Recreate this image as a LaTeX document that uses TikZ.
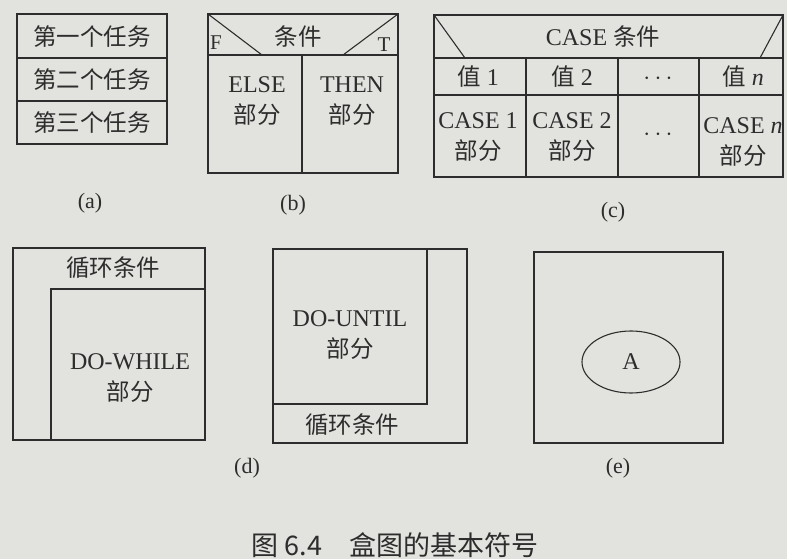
\documentclass[tikz,border=0pt]{standalone}
\usepackage{fontspec}
\setmainfont{Liberation Serif}
\newfontfamily\cjk{Noto Sans CJK SC}
\usetikzlibrary{shapes,positioning}
\definecolor{paper}{RGB}{226,226,222}
\definecolor{ink}{RGB}{45,45,45}
\newcommand\zh[1]{{\cjk\fontsize{23.5}{31}\selectfont #1}}

\begin{document}
\begin{tikzpicture}[x=1pt, y=-1pt,
    box/.style={draw=ink, line width=1.1pt},
    lbl/.style={text=ink, font=\fontsize{24}{31}\selectfont, inner sep=0pt, align=center},
    sublbl/.style={text=ink, font=\fontsize{22}{24}\selectfont, inner sep=0pt}
]
    \fill[paper] (0,0) rectangle (787,559);
    \useasboundingbox (0,0) rectangle (787,559);

    % (a) sequence
    \draw[box] (17,14) rectangle (167,144);
    \foreach \y in {58,101} {
        \draw[box] (17,\y) -- (167,\y);
    }
    \foreach \t [count=\i] in {第一个任务,第二个任务,第三个任务} {
        \node[lbl] (task\i) at (92,{37+43*(\i-1)}) {\zh{\t}};
    }
    \node[sublbl] (capa) at (90,203) {(a)};

    % (b) if-then-else
    \draw[box] (208,14) rectangle (398,173);
    \draw[box] (208,55) -- (398,55);
    \draw[box] (302,55) -- (302,173);
    \draw[box] (208,14) -- (262,55);
    \draw[box] (398,14) -- (343,55);
    \node[lbl] (ifcond) at (298,37) {\zh{条件}};
    \node[lbl, font=\fontsize{21}{24}\selectfont] (false) at (216,43) {F};
    \node[lbl, font=\fontsize{21}{24}\selectfont] (true) at (384,45) {T};
    \node[lbl] (elsepart) at (257,101) {ELSE\\\zh{部分}};
    \node[lbl] (thenpart) at (352,101) {THEN\\\zh{部分}};
    \node[sublbl] (capb) at (293,205) {(b)};

    % (c) case
    \draw[box] (434,15) rectangle (783,177);
    \draw[box] (434,58) -- (783,58);
    \draw[box] (434,95) -- (783,95);
    \foreach \x in {526,618,699} {
        \draw[box] (\x,58) -- (\x,177);
    }
    \draw[box] (434,15) -- (465,58);
    \draw[box] (783,15) -- (760,58);
    \node[lbl] (casecond) at (603,37) {CASE \zh{条件}};
    \node[lbl] (val1) at (478,77) {\zh{值} 1};
    \node[lbl] (val2) at (572,77) {\zh{值} 2};
    \node[lbl] (valdots) at (658,79) {$\cdots$};
    \node[lbl] (valn) at (743,77) {\zh{值} \textit{n}};
    \node[lbl] (case1) at (478,137) {CASE 1\\\zh{部分}};
    \node[lbl] (case2) at (572,137) {CASE 2\\\zh{部分}};
    \node[lbl] (casedots) at (658,135) {$\cdots$};
    \node[lbl] (casen) at (743,142) {CASE \textit{n}\\\zh{部分}};
    \node[sublbl] (capc) at (613,212) {(c)};

    % (d) do-while
    \draw[box] (13,248) rectangle (205,440);
    \draw[box] (51,440) -- (51,289) -- (205,289);
    \node[lbl] (whilecond) at (113,268) {\zh{循环条件}};
    \node[lbl] (whilepart) at (130,378) {DO-WHILE\\\zh{部分}};

    % (d) do-until
    \draw[box] (273,249) rectangle (467,443);
    \draw[box] (273,404) -- (427,404) -- (427,249);
    \node[lbl] (untilpart) at (350,335) {DO-UNTIL\\\zh{部分}};
    \node[lbl] (untilcond) at (352,425) {\zh{循环条件}};
    \node[sublbl] (capd) at (247,468) {(d)};

    % (e) call
    \draw[box] (534,252) rectangle (723,443);
    \node[lbl, draw=ink, line width=1.1pt, ellipse, minimum width=98pt, minimum height=62pt] (proc) at (631,362) {A};
    \node[sublbl] (cape) at (618,468) {(e)};

    % caption
    \node[text=ink, inner sep=0pt] (title) at (395,545) {{\cjk\fontsize{27}{27}\selectfont 图 6.4\hspace{1em}盒图的基本符号}};
\end{tikzpicture}
\end{document}
